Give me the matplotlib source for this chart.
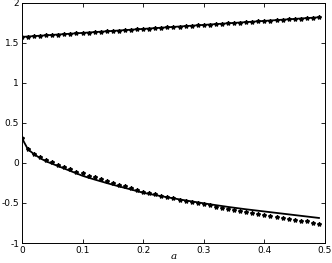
import matplotlib
matplotlib.use("Agg")
import matplotlib.pyplot as plt

# parameter a
a = [0.00, 0.01, 0.02, 0.03, 0.04, 0.05, 0.06, 0.07, 0.08, 0.09,
     0.10, 0.11, 0.12, 0.13, 0.14, 0.15, 0.16, 0.17, 0.18, 0.19,
     0.20, 0.21, 0.22, 0.23, 0.24, 0.25, 0.26, 0.27, 0.28, 0.29,
     0.30, 0.31, 0.32, 0.33, 0.34, 0.35, 0.36, 0.37, 0.38, 0.39,
     0.40, 0.41, 0.42, 0.43, 0.44, 0.45, 0.46, 0.47, 0.48, 0.49]

# upper branch (line and markers coincide)
upper = [1.575, 1.580, 1.585, 1.590, 1.595, 1.600, 1.605, 1.610, 1.615, 1.620,
         1.625, 1.630, 1.635, 1.640, 1.645, 1.650, 1.655, 1.660, 1.665, 1.670,
         1.675, 1.680, 1.685, 1.690, 1.695, 1.700, 1.705, 1.710, 1.715, 1.720,
         1.725, 1.730, 1.735, 1.740, 1.745, 1.750, 1.755, 1.760, 1.765, 1.770,
         1.775, 1.780, 1.785, 1.790, 1.795, 1.800, 1.805, 1.810, 1.815, 1.820]

# lower branch, solid line
lower_line = [0.31, 0.17, 0.11, 0.06, 0.02, -0.01, -0.04, -0.07, -0.10, -0.13,
              -0.160, -0.184, -0.207, -0.229, -0.251, -0.272, -0.292, -0.312, -0.331, -0.352,
              -0.372, -0.387, -0.401, -0.415, -0.429, -0.442, -0.455, -0.468, -0.480, -0.492,
              -0.504, -0.516, -0.527, -0.538, -0.549, -0.559, -0.569, -0.579, -0.588, -0.597,
              -0.606, -0.615, -0.624, -0.633, -0.642, -0.651, -0.660, -0.669, -0.678, -0.687]

# lower branch, markers
lower_pts = [0.31, 0.17, 0.11, 0.07, 0.04, 0.01, -0.02, -0.05, -0.08, -0.11,
             -0.13, -0.16, -0.18, -0.20, -0.23, -0.25, -0.27, -0.29, -0.31, -0.34,
             -0.36, -0.37, -0.39, -0.41, -0.43, -0.44, -0.46, -0.47, -0.49, -0.50,
             -0.515, -0.53, -0.545, -0.56, -0.57, -0.585, -0.60, -0.61, -0.625, -0.64,
             -0.65, -0.66, -0.67, -0.685, -0.695, -0.71, -0.72, -0.73, -0.745, -0.76]

xticks = [0, 0.1, 0.2, 0.3, 0.4, 0.5]
xtick_labels = ["0", "0.1", "0.2", "0.3", "0.4", "0.5"]
yticks = [-1, -0.5, 0, 0.5, 1, 1.5, 2]
ytick_labels = ["-1", "-0.5", "0", "0.5", "1", "1.5", "2"]

plt.rcParams['font.family'] = ['DejaVu Sans']
fig = plt.figure(figsize=(3.32, 2.63), dpi=100)
ax = fig.add_axes([0.066, 0.076, 0.913, 0.913])

ax.plot(a, upper, color='black', lw=1.3)
ax.plot(a, upper, ls='none', marker='*', ms=3, color='black')
ax.plot(a, lower_line, color='black', lw=1.3)
ax.plot(a, lower_pts, ls='none', marker='*', ms=3, color='black')

ax.set_xlim(0, 0.5)
ax.set_ylim(-1, 2)
ax.set_xticks(xticks)
ax.set_xticklabels(xtick_labels)
ax.set_yticks(yticks)
ax.set_yticklabels(ytick_labels)
ax.tick_params(direction='in', top=True, right=True, length=3, width=0.6,
               labelsize=6.5, pad=2)
for s in ax.spines.values():
    s.set_linewidth(0.7)
ax.set_xlabel('a', fontstyle='italic', family='DejaVu Serif', fontsize=7.5, labelpad=-2)

fig.savefig('out.png', dpi=100)
